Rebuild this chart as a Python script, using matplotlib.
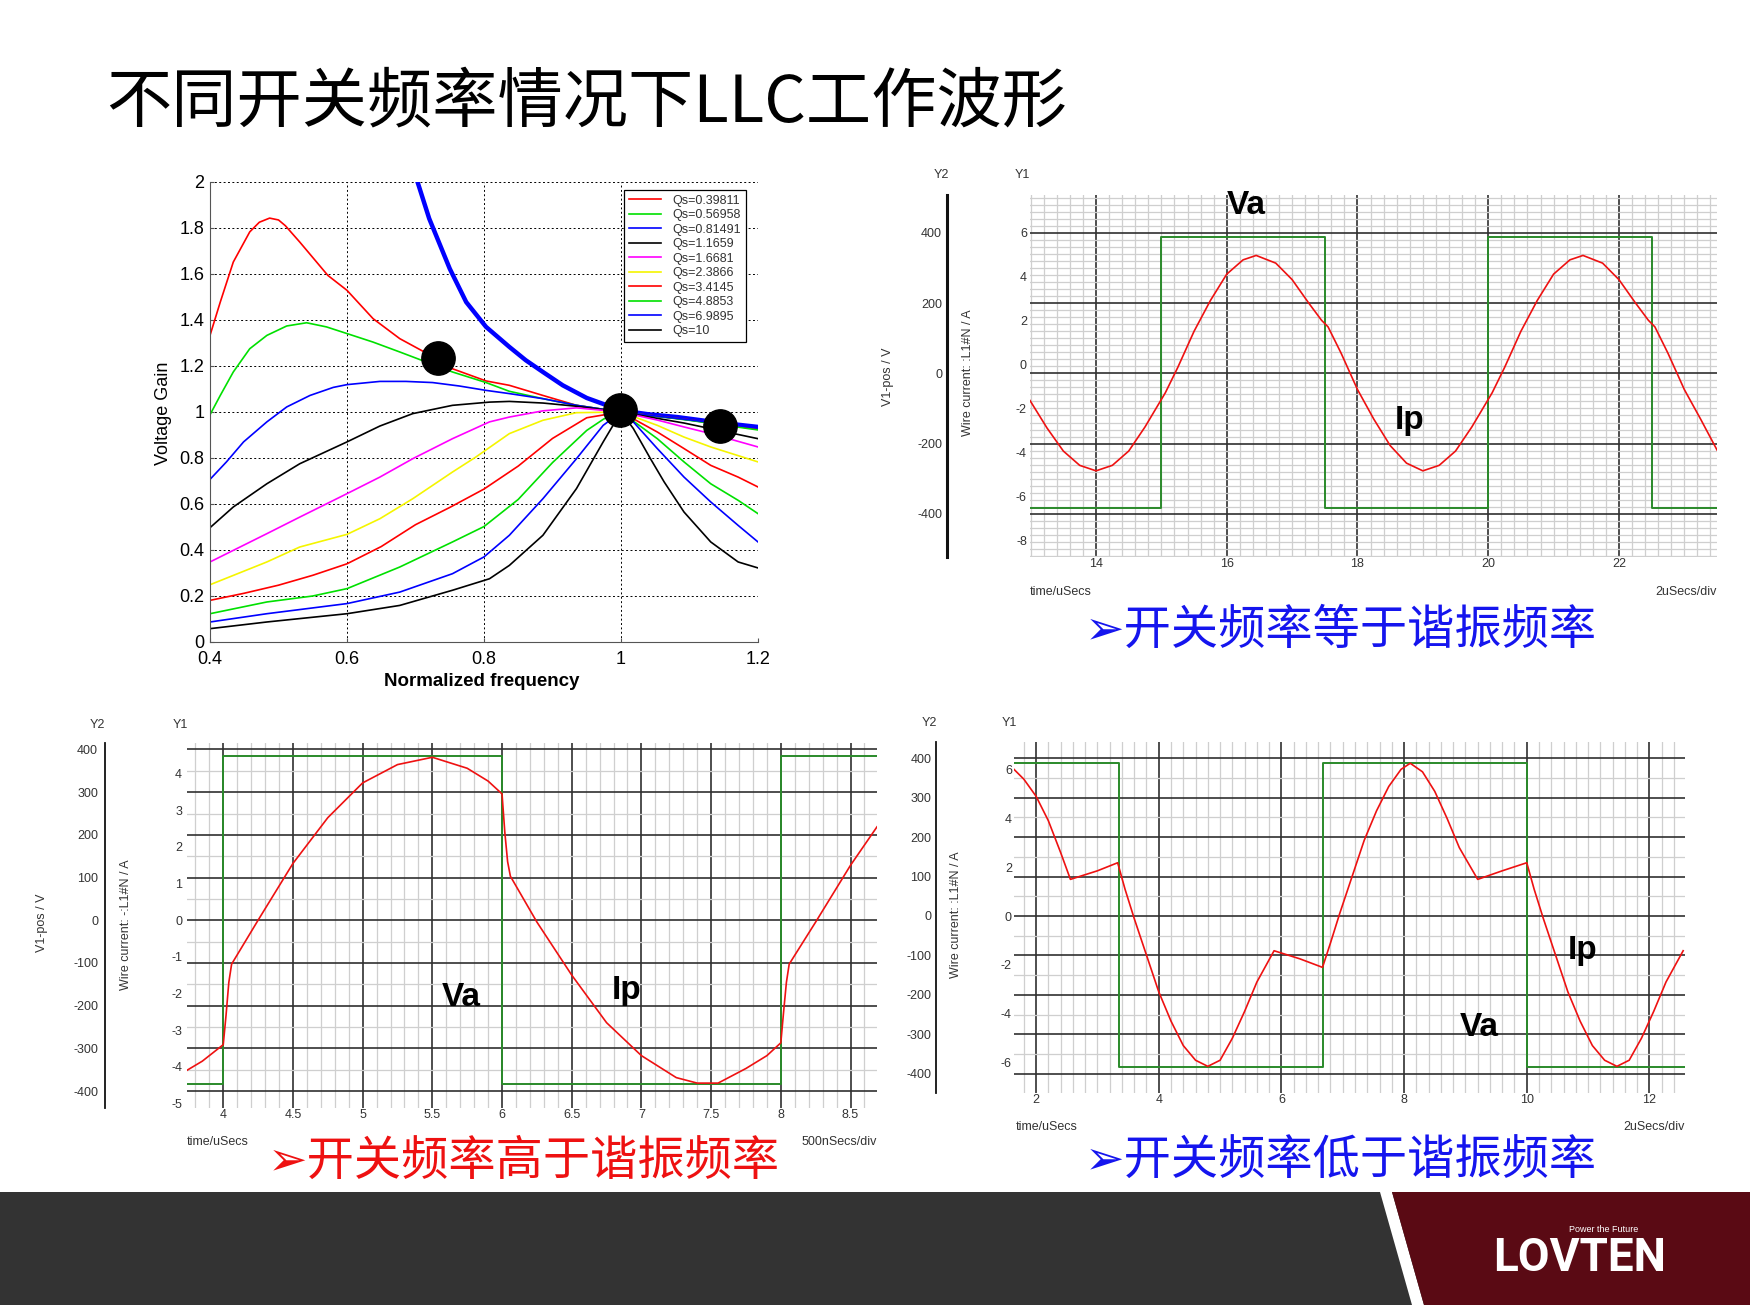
import matplotlib
matplotlib.use("Agg")
import matplotlib.pyplot as plt
from matplotlib.patches import Polygon, Rectangle
from matplotlib.ticker import MultipleLocator
from matplotlib import font_manager

W, H = 1750, 1305
plt.rcParams['font.family'] = ['Liberation Sans', 'DejaVu Sans']
plt.rcParams['axes.unicode_minus'] = False

CJK = ['Noto Sans CJK SC', 'DejaVu Sans']
names = {f.name for f in font_manager.fontManager.ttflist}
NARROW = 'Liberation Sans Narrow' if 'Liberation Sans Narrow' in names else 'Liberation Sans'

title = '不同开关频率情况下LLC工作波形'
cap_eq = '➢开关频率等于谐振频率'
cap_hi = '➢开关频率高于谐振频率'
cap_lo = '➢开关频率低于谐振频率'

# ---- gain curves ----
qs_labels = ['Qs=0.39811', 'Qs=0.56958', 'Qs=0.81491', 'Qs=1.1659', 'Qs=1.6681',
             'Qs=2.3866', 'Qs=3.4145', 'Qs=4.8853', 'Qs=6.9895', 'Qs=10']
qs_colors = ['#ff0000', '#00e000', '#0000ff', '#000000', '#ff00ff',
             '#f5f500', '#ff0000', '#00e000', '#0000ff', '#000000']

nl_f = [0.703, 0.72, 0.75, 0.774, 0.803, 0.837, 0.861, 0.886, 0.915, 0.95, 1.0, 1.04, 1.082, 1.14, 1.2]
nl_g = [2.0, 1.841, 1.623, 1.478, 1.37, 1.283, 1.225, 1.174, 1.116, 1.061, 1.007, 0.99, 0.978, 0.955, 0.935]

q1_f = [0.4, 0.415, 0.434, 0.458, 0.472, 0.487, 0.5, 0.51, 0.531, 0.572, 0.6, 0.638, 0.677, 0.711, 0.754,
        0.803, 0.837, 0.886, 0.935, 1.0, 1.1, 1.2]
q1_g = [1.333, 1.478, 1.652, 1.783, 1.825, 1.843, 1.835, 1.81, 1.739, 1.594, 1.529, 1.406, 1.319, 1.264, 1.188,
        1.135, 1.116, 1.072, 1.029, 1.0, 0.966, 0.925]

q2_f = [0.4, 0.415, 0.434, 0.458, 0.483, 0.512, 0.541, 0.57, 0.6, 0.638, 0.677, 0.716, 0.754, 0.803, 0.837, 0.886, 0.935, 1.0, 1.1, 1.2]
q2_g = [0.988, 1.072, 1.174, 1.275, 1.333, 1.374, 1.388, 1.37, 1.341, 1.304, 1.261, 1.217, 1.174, 1.128, 1.09, 1.058, 1.029, 1.0, 0.964, 0.922]

q3_f = [0.4, 0.424, 0.449, 0.483, 0.512, 0.546, 0.58, 0.6, 0.648, 0.686, 0.725, 0.764, 0.803, 0.837, 0.886, 0.935, 1.0, 1.1, 1.2]
q3_g = [0.707, 0.783, 0.87, 0.957, 1.022, 1.072, 1.107, 1.119, 1.133, 1.133, 1.128, 1.113, 1.094, 1.08, 1.058, 1.029, 1.0, 0.966, 0.93]

q4_f = [0.4, 0.434, 0.483, 0.531, 0.6, 0.648, 0.696, 0.754, 0.808, 0.837, 0.886, 0.935, 1.0, 1.092, 1.2]
q4_g = [0.497, 0.587, 0.688, 0.775, 0.87, 0.939, 0.993, 1.029, 1.043, 1.046, 1.039, 1.025, 1.0, 0.952, 0.884]

q5_f = [0.4, 0.483, 0.531, 0.6, 0.648, 0.696, 0.754, 0.808, 0.837, 0.886, 0.935, 1.0, 1.053, 1.092, 1.131, 1.2]
q5_g = [0.348, 0.471, 0.543, 0.645, 0.717, 0.797, 0.884, 0.957, 0.978, 1.005, 1.018, 1.0, 0.965, 0.935, 0.906, 0.848]

q6_f = [0.4, 0.483, 0.531, 0.6, 0.648, 0.696, 0.754, 0.788, 0.837, 0.886, 0.935, 1.0, 1.053, 1.092, 1.131, 1.2]
q6_g = [0.249, 0.348, 0.413, 0.468, 0.536, 0.623, 0.739, 0.804, 0.906, 0.964, 0.997, 1.0, 0.942, 0.891, 0.848, 0.783]

q7_f = [0.4, 0.45, 0.5, 0.55, 0.6, 0.65, 0.7, 0.75, 0.8, 0.85, 0.9, 0.95, 1.0, 1.053, 1.092, 1.131, 1.171, 1.2]
q7_g = [0.181, 0.212, 0.247, 0.29, 0.34, 0.415, 0.51, 0.585, 0.665, 0.765, 0.885, 0.975, 1.0, 0.913, 0.841, 0.768, 0.717, 0.674]

q8_f = [0.4, 0.483, 0.55, 0.6, 0.677, 0.754, 0.8, 0.85, 0.9, 0.95, 0.975, 1.0, 1.053, 1.092, 1.131, 1.171, 1.2]
q8_g = [0.123, 0.174, 0.2, 0.232, 0.326, 0.435, 0.502, 0.62, 0.78, 0.92, 0.97, 1.0, 0.884, 0.783, 0.688, 0.616, 0.558]

q9_f = [0.4, 0.483, 0.6, 0.677, 0.754, 0.8, 0.837, 0.886, 0.935, 0.974, 1.0, 1.018, 1.053, 1.092, 1.131, 1.171, 1.2]
q9_g = [0.087, 0.123, 0.167, 0.217, 0.297, 0.37, 0.464, 0.623, 0.797, 0.942, 1.0, 0.957, 0.841, 0.717, 0.609, 0.507, 0.435]

q10_f = [0.4, 0.483, 0.6, 0.677, 0.754, 0.808, 0.837, 0.886, 0.935, 0.974, 1.0, 1.018, 1.043, 1.063, 1.092, 1.131, 1.171, 1.2]
q10_g = [0.058, 0.087, 0.123, 0.159, 0.225, 0.275, 0.333, 0.464, 0.667, 0.87, 1.0, 0.928, 0.797, 0.696, 0.565, 0.435, 0.348, 0.322]

dot_f = [0.733, 0.999, 1.144]
dot_g = [1.235, 1.01, 0.939]

# ---- scope waveforms ----
# f_sw = f_r
va1_t = [12.99, 15.0, 17.5, 20.0, 22.5, 23.5]
va1_v = [-382, 387, -382, 387, -382, -382]
ip1_t = [12.99, 13.25, 13.5, 13.75, 14.0, 14.25, 14.5, 14.75, 15.0, 15.06, 15.25, 15.5, 15.75, 16.0, 16.25,
         16.45, 16.75, 17.0, 17.25, 17.45, 17.55, 17.75, 18.0, 18.25, 18.5, 18.75, 19.0, 19.25, 19.5, 19.75,
         20.0, 20.06, 20.25, 20.5, 20.75, 21.0, 21.25, 21.45, 21.75, 22.0, 22.25, 22.45, 22.55, 22.75, 23.0,
         23.25, 23.5]
ip1_a = [-1.65, -2.9, -3.95, -4.6, -4.85, -4.6, -3.95, -2.85, -1.6, -1.3, -0.15, 1.5, 2.9, 4.1, 4.75,
         4.95, 4.6, 3.85, 2.8, 2.0, 1.7, 0.5, -1.15, -2.5, -3.7, -4.5, -4.85, -4.6, -3.95, -2.85,
         -1.6, -1.3, -0.15, 1.5, 2.9, 4.1, 4.75, 4.95, 4.6, 3.85, 2.8, 2.0, 1.7, 0.5, -1.15,
         -2.5, -3.9]

# f_sw > f_r
va2_t = [3.74, 4.0, 6.0, 8.0, 8.69]
va2_v = [-383, 385, -383, 385, 385]
ip2_t = [3.74, 3.85, 4.0, 4.02, 4.04, 4.06, 4.25, 4.5, 4.75, 5.0, 5.25, 5.5, 5.75, 5.9, 6.0, 6.02, 6.04,
         6.06, 6.25, 6.5, 6.75, 7.0, 7.25, 7.4, 7.55, 7.75, 7.9, 8.0, 8.02, 8.04, 8.06, 8.25, 8.5, 8.69]
ip2_a = [-4.1, -3.85, -3.4, -2.6, -1.7, -1.2, 0.0, 1.55, 2.8, 3.75, 4.25, 4.45, 4.15, 3.8, 3.45, 2.4, 1.6,
         1.2, -0.05, -1.5, -2.8, -3.7, -4.3, -4.45, -4.45, -4.05, -3.7, -3.35, -2.5, -1.7, -1.2, -0.05, 1.5, 2.55]

# f_sw < f_r
va3_t = [1.64, 3.35, 6.67, 10.0, 12.58]
va3_v = [387, -382, 387, -382, -382]
ip3_t = [1.64, 1.8, 2.0, 2.2, 2.4, 2.56, 3.0, 3.33, 3.45, 3.6, 3.8, 4.0, 4.2, 4.4, 4.6, 4.8, 5.0, 5.2,
         5.4, 5.6, 5.88, 6.3, 6.67, 6.8, 6.95, 7.15, 7.35, 7.55, 7.75, 7.95, 8.1, 8.3, 8.5, 8.7, 8.9,
         9.2, 9.6, 10.0, 10.12, 10.27, 10.47, 10.67, 10.87, 11.07, 11.27, 11.47, 11.67, 11.87, 12.07,
         12.27, 12.55]
ip3_a = [6.0, 5.6, 4.9, 3.9, 2.6, 1.5, 1.85, 2.18, 1.1, -0.1, -1.6, -3.1, -4.3, -5.3, -5.9, -6.15, -5.9, -5.0,
         -3.9, -2.7, -1.42, -1.75, -2.1, -1.1, 0.1, 1.6, 3.1, 4.3, 5.3, 6.0, 6.25, 5.9, 5.1, 4.0, 2.8,
         1.5, 1.85, 2.18, 1.1, -0.1, -1.6, -3.1, -4.3, -5.3, -5.9, -6.15, -5.9, -5.0, -3.9,
         -2.7, -1.42]


def frac(x0, y0, x1, y1):
    return [x0 / W, 1 - y1 / H, (x1 - x0) / W, (y1 - y0) / H]


fig = plt.figure(figsize=(W / 100, H / 100), dpi=100)
fig.patch.set_facecolor('white')

# ---------------- gain chart ----------------
ax = fig.add_axes(frac(210, 182, 758, 642))
ax.plot(nl_f, nl_g, color='#0000ff', lw=3.2)
curves = [(q1_f, q1_g), (q2_f, q2_g), (q3_f, q3_g), (q4_f, q4_g), (q5_f, q5_g),
          (q6_f, q6_g), (q7_f, q7_g), (q8_f, q8_g), (q9_f, q9_g), (q10_f, q10_g)]
for (f, g), c, lab in zip(curves, qs_colors, qs_labels):
    ax.plot(f, g, color=c, lw=1.2, label=lab)
ax.plot(dot_f, dot_g, 'o', color='black', ms=24, zorder=6, clip_on=False)
ax.set_xlim(0.4, 1.2)
ax.set_ylim(0, 2)
ax.set_xticks([0.4, 0.6, 0.8, 1.0, 1.2], ['0.4', '0.6', '0.8', '1', '1.2'])
ax.set_yticks([0, 0.2, 0.4, 0.6, 0.8, 1.0, 1.2, 1.4, 1.6, 1.8, 2.0],
              ['0', '0.2', '0.4', '0.6', '0.8', '1', '1.2', '1.4', '1.6', '1.8', '2'])
ax.grid(True, color='black', linestyle=(0, (2, 2.5)), lw=0.7)
for s in ['top', 'right']:
    ax.spines[s].set_visible(False)
for s in ['left', 'bottom']:
    ax.spines[s].set_color('#555555')
ax.tick_params(direction='in', length=3, labelsize=13, color='#555555')
ax.tick_params(axis='y', pad=4)
ax.tick_params(axis='x', pad=6.5)
leg = ax.legend(loc='upper right', bbox_to_anchor=(0.978, 0.983), borderaxespad=0,
                fontsize=9, fancybox=False, edgecolor='black', framealpha=1,
                handlelength=2.6, labelspacing=0.2, borderpad=0.4, handletextpad=0.9)
leg.get_frame().set_linewidth(0.9)
for t in leg.get_texts():
    t.set_color('#333333')


# ---------------- scope panels ----------------
def scope(box, spine_x, spine_lw, xlim, xt, xl, xminor, y2lim, y2t, y2minor,
          y1lim, y1t, va_t, va_v, ip_t, ip_a, y2pad, y1pad, xpad):
    x0, y0, x1, y1 = box
    a = fig.add_axes(frac(x0, y0, x1, y1))
    a.set_xlim(xlim)
    a.set_ylim(y2lim)
    a.set_xticks(xt, xl)
    a.xaxis.set_minor_locator(MultipleLocator(xminor))
    a.set_yticks(y2t, [str(v) for v in y2t])
    a.yaxis.set_minor_locator(MultipleLocator(y2minor))
    a.grid(which='minor', color='#cfcfcf', lw=0.9)
    a.grid(which='major', color='#303030', lw=1.2)
    for s in ['top', 'right', 'bottom']:
        a.spines[s].set_visible(False)
    a.spines['left'].set_position(('outward', (x0 - spine_x) * 0.72))
    a.spines['left'].set_linewidth(spine_lw)
    a.spines['left'].set_color('#111111')
    a.tick_params(which='both', length=0, labelsize=9, labelcolor='#333333',
                  labelfontfamily=NARROW)
    a.tick_params(axis='y', pad=y2pad)
    a.tick_params(axis='x', pad=xpad)
    a.step(va_t, va_v, where='post', color='#2a8a2a', lw=1.4, zorder=3)

    b = a.twinx()
    b.set_ylim(y1lim)
    b.yaxis.tick_left()
    b.set_yticks(y1t, [str(v) for v in y1t])
    for s in b.spines.values():
        s.set_visible(False)
    b.tick_params(length=0, labelsize=9, labelcolor='#333333', pad=y1pad,
                  labelfontfamily=NARROW)
    b.plot(ip_t, ip_a, color='#ee1111', lw=1.2)
    return a


scope((1030, 195, 1717, 557), 947, 2.2, (12.99, 23.5), [14, 16, 18, 20, 22],
      ['14', '16', '18', '20', '22'], 0.2, (-522.6, 507.3), [-400, -200, 0, 200, 400], 20,
      (-8.77, 7.70), [-8, -6, -4, -2, 0, 2, 4, 6], va1_t, va1_v, ip1_t, ip1_a, 3.5, 2.2, 1)

scope((187, 743, 877, 1108), 105, 1.3, (3.74, 8.69), [4, 4.5, 5, 5.5, 6, 6.5, 7, 7.5, 8, 8.5],
      ['4', '4.5', '5', '5.5', '6', '6.5', '7', '7.5', '8', '8.5'], 0.1, (-439.6, 415.2),
      [-400, -300, -200, -100, 0, 100, 200, 300, 400], 50,
      (-5.13, 4.84), [-5, -4, -3, -2, -1, 0, 1, 2, 3, 4], va2_t, va2_v, ip2_t, ip2_a, 5, 3.6, 1)

scope((1014, 742, 1685, 1093), 936, 1.3, (1.64, 12.58), [2, 4, 6, 8, 10, 12],
      ['2', '4', '6', '8', '10', '12'], 0.2, (-448.7, 441.0),
      [-400, -300, -200, -100, 0, 100, 200, 300, 400], 50,
      (-7.24, 7.12), [-6, -4, -2, 0, 2, 4, 6], va3_t, va3_v, ip3_t, ip3_a, 3.4, 1.5, 1)

# ---------------- overlay: texts & footer in pixel coords ----------------
bg = fig.add_axes([0, 0, 1, 1], zorder=10)
bg.patch.set_visible(False)
bg.set_xlim(0, W)
bg.set_ylim(H, 0)
bg.axis('off')

bg.text(106, 103, title, fontsize=47, family=CJK, ha='left', va='center', color='black')

# gain chart labels
bg.text(164, 413, 'Voltage Gain', rotation=90, fontsize=13, ha='center', va='center')
bg.text(482, 682, 'Normalized frequency', fontsize=13.5, weight='bold', ha='center', va='center')

small = dict(fontsize=9, color='#333333', family=NARROW, va='center')
# panel: f_sw = f_r
bg.text(941, 175, 'Y2', ha='center', **small)
bg.text(1022, 175, 'Y1', ha='center', **small)
bg.text(888, 377, 'V1-pos / V', rotation=90, ha='center', **small)
bg.text(968, 373, 'Wire current: :L1#N / A', rotation=90, ha='center', **small)
bg.text(1030, 592, 'time/uSecs', ha='left', **small)
bg.text(1717, 592, '2uSecs/div', ha='right', **small)
# panel: f_sw > f_r
bg.text(97, 725, 'Y2', ha='center', **small)
bg.text(180, 725, 'Y1', ha='center', **small)
bg.text(42, 923, 'V1-pos / V', rotation=90, ha='center', **small)
bg.text(126, 925, 'Wire current: -:L1#N / A', rotation=90, ha='center', **small)
bg.text(187, 1142, 'time/uSecs', ha='left', **small)
bg.text(877, 1142, '500nSecs/div', ha='right', **small)
# panel: f_sw < f_r
bg.text(929, 723, 'Y2', ha='center', **small)
bg.text(1009, 723, 'Y1', ha='center', **small)
bg.text(956, 915, 'Wire current: :L1#N / A', rotation=90, ha='center', **small)
bg.text(1016, 1127, 'time/uSecs', ha='left', **small)
bg.text(1685, 1127, '2uSecs/div', ha='right', **small)

big = dict(fontsize=24, weight='bold', family=NARROW, ha='center', va='center', color='black')
bg.text(1246, 206, 'Va', **big)
bg.text(1410, 420, 'Ip', **big)
bg.text(461, 997, 'Va', **big)
bg.text(627, 990, 'Ip', **big)
bg.text(1583, 951, 'Ip', **big)
bg.text(1479, 1028, 'Va', **big)

# captions
bg.text(1085, 631, cap_eq, fontsize=34, family=CJK, color='#1515ee', ha='left', va='center')
bg.text(268, 1162, cap_hi, fontsize=34, family=CJK, color='#ee1111', ha='left', va='center')
bg.text(1085, 1162, cap_lo, fontsize=34, family=CJK, color='#1515ee', ha='left', va='center')

# footer
bg.add_patch(Rectangle((0, 1192), W, H - 1192, color='#333333', lw=0))
bg.add_patch(Polygon([(1380, 1192), (1392, 1192), (1424, H), (1412, H)], closed=True,
                     color='white', lw=0))
bg.add_patch(Polygon([(1392, 1192), (W, 1192), (W, H), (1424, H)], closed=True,
                     color='#5a0a14', lw=0))
bg.text(1580, 1258, 'LOVTEN', fontsize=33, weight='bold', family=['Roboto', 'Liberation Sans'],
        color='white', ha='center', va='center')
bg.text(1604, 1230, 'Power the Future', fontsize=6.5, color='white', ha='center', va='center')

fig.savefig('out.png', dpi=100)
